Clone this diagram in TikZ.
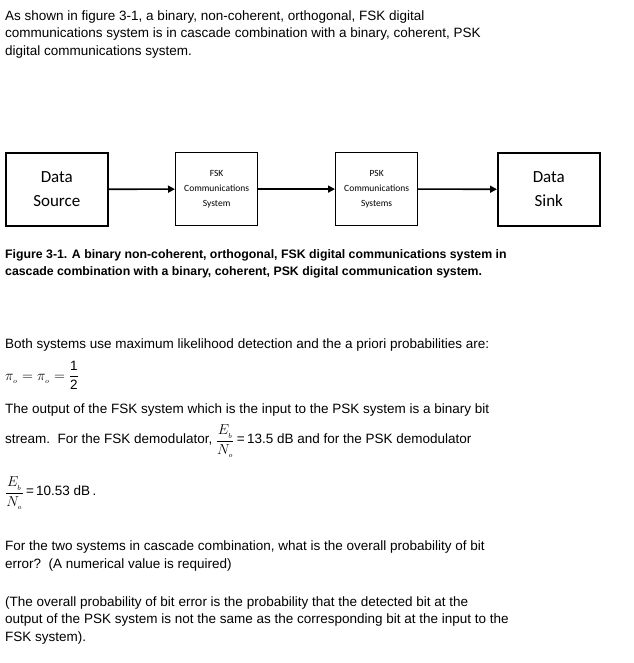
\documentclass[tikz,border=0pt]{standalone}
\usepackage{amsmath}
\usepackage{fontspec}
\setmainfont{Liberation Sans}
\newfontfamily\calibrifont{Carlito}
\usetikzlibrary{arrows.meta}
\begin{document}
\begin{tikzpicture}[x=1pt,y=-1pt,
  txt/.style={anchor=base west,inner sep=0pt,font=\fontsize{13.5}{17}\selectfont},
  big/.style={draw,line width=1.6pt,minimum width=102pt,minimum height=73pt,font=\calibrifont\fontsize{17}{24}\selectfont,align=center,anchor=north west},
  small/.style={draw,line width=1.2pt,minimum width=82pt,minimum height=73pt,font=\calibrifont\fontsize{9.5}{15}\selectfont,align=center,anchor=north west},
  arr/.style={-{Triangle[length=7pt,width=7pt]},line width=1.6pt}]
\useasboundingbox (0,0) rectangle (633,663);
\node[txt] (l1) at (5,21) {As shown in figure 3-1, a binary, non-coherent, orthogonal, FSK digital};
\node[txt] (l2) at (5,38) {communications system is in cascade combination with a binary, coherent, PSK};
\node[txt] (l3) at (5,56) {digital communications system.};
\node[big] (src) at (5,152) {Data\\Source};
\node[small] (fsk) at (175,152) {FSK\\Communications\\System};
\node[small] (psk) at (335,152) {PSK\\Communications\\Systems};
\node[big] (snk) at (497,152) {Data\\Sink};
\draw[arr] (src) -- (fsk);
\draw[arr] (fsk) -- (psk);
\draw[arr] (psk) -- (snk);
\node[txt,font=\bfseries\fontsize{12.3}{17}\selectfont] (c1) at (5,258) {Figure 3-1. A binary non-coherent, orthogonal, FSK digital communications system in};
\node[txt,font=\bfseries\fontsize{12.3}{17}\selectfont] (c2) at (5,275) {cascade combination with a binary, coherent, PSK digital communication system.};
\node[txt] (b1) at (5,348) {Both systems use maximum likelihood detection and the a priori probabilities are:};
\node[txt] (pi) at (5,380) {$\pi_{_o}=\pi_{_o}=\dfrac{\text{1}}{\text{2}}$};
\node[txt] (b2) at (5,413) {The output of the FSK system which is the input to the PSK system is a binary bit};
\node[txt] (b3) at (5,443) {stream.\ \ For the FSK demodulator, \raisebox{-0.2ex}{$\dfrac{E_{_b}}{N_{_o}}$}\,=\,13.5 dB and for the PSK demodulator};
\node[txt] (b4) at (5,495) {\raisebox{-0.2ex}{$\dfrac{E_{_b}}{N_{_o}}$}\,=\,10.53 dB\,.};
\node[txt] (b5) at (5,550) {For the two systems in cascade combination, what is the overall probability of bit};
\node[txt] (b6) at (5,568) {error?\ \ (A numerical value is required)};
\node[txt] (b7) at (5,606) {(The overall probability of bit error is the probability that the detected bit at the};
\node[txt] (b8) at (5,623) {output of the PSK system is not the same as the corresponding bit at the input to the};
\node[txt] (b9) at (5,641) {FSK system).};
\end{tikzpicture}
\end{document}
